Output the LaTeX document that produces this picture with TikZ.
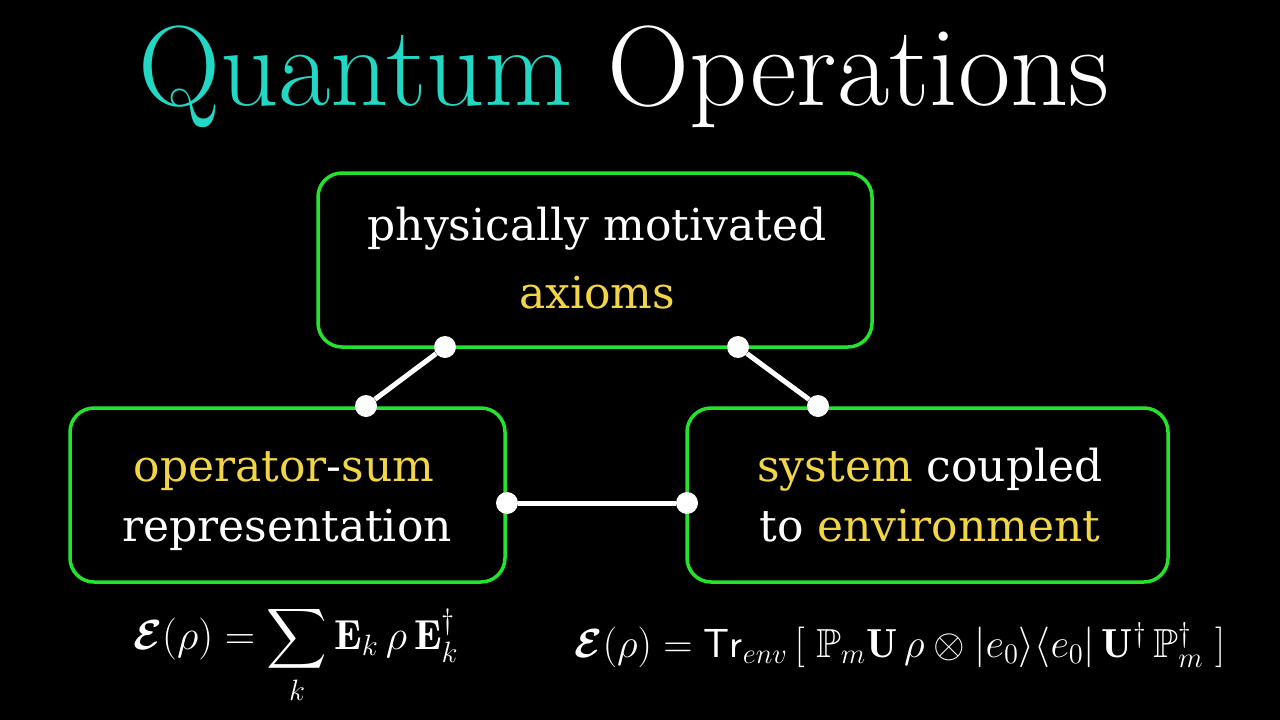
\documentclass[tikz,border=0pt]{standalone}
\usepackage{fix-cm}
\usepackage{amsmath,amssymb,bm}
\usepackage{fontspec}
\newfontfamily\boxfont{DejaVu Serif}
\definecolor{qteal}{HTML}{22D8C4}
\definecolor{qyel}{HTML}{F2D545}
\definecolor{qgreen}{HTML}{22E42A}
\begin{document}
\begin{tikzpicture}[x=1pt,y=-1pt]
\tikzset{box/.style={draw=qgreen,line width=3.5pt,rounded corners=24pt},
  txt/.style={text=white,font=\boxfont\fontsize{44}{50}\selectfont,anchor=base},
  link/.style={white,line width=5pt},
  dot/.style={circle,fill=white,inner sep=0pt,minimum size=22pt}}
\fill[black] (0,0) rectangle (1280,720);
\useasboundingbox (0,0) rectangle (1280,720);
\node[anchor=base,font=\fontsize{114}{120}\selectfont,text=white] (title) at (624,105) {\textcolor{qteal}{Quantum} Operations};
\draw[box] (318,173) rectangle (872,347);
\draw[box] (70,408) rectangle (505,582);
\draw[box] (687,408) rectangle (1168,582);
\node[txt] (t1) at (597,240) {physically motivated};
\node[txt] (t2) at (597,308) {\textcolor{qyel}{axioms}};
\node[txt] (l1) at (284,481) {\textcolor{qyel}{operator}-\textcolor{qyel}{sum}};
\node[txt] (l2) at (287,541) {representation};
\node[txt] (r1) at (930,481) {\textcolor{qyel}{system} coupled};
\node[txt] (r2) at (930,541) {to \textcolor{qyel}{environment}};
\node[dot] (a1) at (445,347) {};
\node[dot] (a2) at (366,406) {};
\node[dot] (b1) at (738,347) {};
\node[dot] (b2) at (818,406) {};
\node[dot] (c1) at (507,503) {};
\node[dot] (c2) at (687,503) {};
\draw[link] (a1) -- (a2);
\draw[link] (b1) -- (b2);
\draw[link] (c1) -- (c2);
\node[text=white,scale=2.1,font=\fontsize{20}{24}\selectfont] (f1) at (296,655)
  {$\bm{\mathcal{E}}(\rho) = \displaystyle\sum_k \mathbf{E}_k\,\rho\,\mathbf{E}_k^{\dagger}$};
\node[text=white,scale=2.03,font=\fontsize{20}{24}\selectfont] (f2) at (900,645)
  {$\bm{\mathcal{E}}(\rho) = \mathsf{Tr}_{env}\,[\;\mathbb{P}_m\mathbf{U}\,\rho\otimes|e_0\rangle\langle e_0|\,\mathbf{U}^{\dagger}\,\mathbb{P}_m^{\dagger}\;]$};
\end{tikzpicture}
\end{document}
